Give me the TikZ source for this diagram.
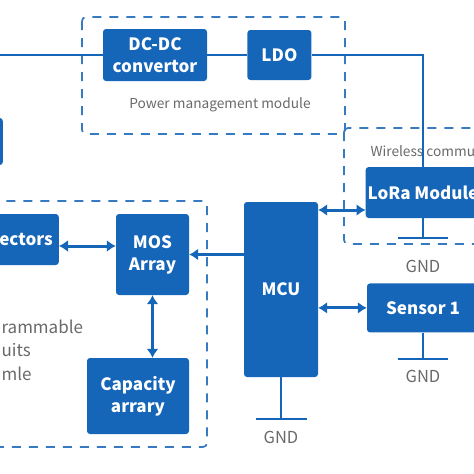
\documentclass[tikz,border=0pt]{standalone}
\usepackage{fontspec}
\setmainfont{Noto Sans CJK SC}
\usetikzlibrary{arrows.meta, positioning}
\definecolor{boxblue}{RGB}{21,101,184}
\definecolor{dashblue}{RGB}{54,122,194}
\definecolor{labelgray}{RGB}{105,105,105}
\tikzstyle{block} = [rectangle, rounded corners=3pt, fill=boxblue, text=white, font=\fontsize{17}{22}\selectfont\bfseries, align=center, inner sep=2pt]
\tikzstyle{wire} = [boxblue, line width=2pt]
\tikzstyle{biarrow} = [boxblue, line width=3pt, {Latex[length=9pt,width=12pt]}-{Latex[length=9pt,width=12pt]}]
\tikzstyle{onearrow} = [boxblue, line width=3pt, -{Latex[length=9pt,width=12pt]}]
\tikzstyle{module} = [dashblue, line width=1.7pt, dash pattern=on 9pt off 8pt, rounded corners=4pt]
\tikzstyle{caption} = [text=labelgray, font=\fontsize{13.7}{18}\selectfont]
\tikzstyle{gndlabel} = [text=labelgray, font=\fontsize{16.5}{18}\selectfont]

\begin{document}
\begin{tikzpicture}[x=1pt, y=-1pt, node distance=40pt]
    \useasboundingbox (0,0) rectangle (474,474);
    \clip (0,0) rectangle (474,474);

    % power management module
    \draw[module] (82,17) rectangle (345,134);
    \node[block, minimum width=104pt, minimum height=52pt] (dcdc) at (155,55) {DC-DC\\convertor};
    \node[block, minimum width=64pt, minimum height=50pt, right=40pt of dcdc] (ldo) {LDO};
    \node[caption] (pmlabel) at (220,105) {Power management module};

    % wireless communication module
    \draw[module] (344,128) rectangle (500,244);
    \node[caption, anchor=west] (wclabel) at (367,151) {Wireless communication module};
    \node[block, minimum width=112pt, minimum height=51pt] (lora) at (423,192.5) {LoRa Module};

    % MCU and sensor
    \node[block, minimum width=74pt, minimum height=175pt] (mcu) at (281,289.5) {MCU};
    \node[block, minimum width=112pt, minimum height=49pt, below=65pt of lora] (sensor) {Sensor 1};

    % programmable circuits module
    \draw[module] (-20,201) rectangle (207,447);
    \node[block, minimum width=73pt, minimum height=81pt] (mos) at (152.5,254.5) {MOS\\Array};
    \node[block, minimum width=102pt, minimum height=76pt] (cap) at (138,396) {Capacity\\arrary};
    \node[block, minimum height=51pt, inner xsep=6pt, anchor=east] (conn) at (59,239.5) {Connectors};
    \node[caption, anchor=west, align=left, font=\fontsize{17}{23.5}\selectfont] (pclabel) at (-2,350) {rammable\\uits\\mle};

    % left block, cut off by the edge
    \node[block, minimum width=40pt, minimum height=47pt, anchor=east] (inbox) at (3,141.5) {};

    % power path
    \coordinate (vin) at (0,55);
    \draw[wire] (vin) -- (dcdc);
    \draw[wire] (dcdc) -- (ldo);
    \draw[wire] (ldo.east) -| (lora.north);

    % data links
    \coordinate (lorain) at ([yshift=-17.5pt]lora.west);
    \draw[biarrow] (mcu.east |- lorain) -- (lorain);
    \draw[biarrow] (mcu.east |- sensor.west) -- (sensor.west);
    \draw[onearrow] (mcu.west |- mos.east) -- (mos.east);
    \coordinate (mosin) at ([yshift=8.5pt]mos.west);
    \draw[biarrow] (conn.east |- mosin) -- (mosin);
    \draw[biarrow] (mos.south) -- (mos.south |- cap.north);

    % ground symbols
    \coordinate (gndl) at ([yshift=-20pt]lora.south);
    \draw[wire] (lora.south) -- (gndl) ([xshift=-25pt]gndl) -- ([xshift=25pt]gndl);
    \node[gndlabel] (gndltext) at ([yshift=-28pt]gndl) {GND};
    \coordinate (gnds) at ([yshift=-26pt]sensor.south);
    \draw[wire] (sensor.south) -- (gnds) ([xshift=-25pt]gnds) -- ([xshift=25pt]gnds);
    \node[gndlabel] (gndstext) at ([yshift=-18pt]gnds) {GND};
    \coordinate (gndm) at ([yshift=-42pt]mcu.south);
    \draw[wire] (mcu.south) -- (gndm) ([xshift=-25.5pt]gndm) -- ([xshift=25.5pt]gndm);
    \node[gndlabel] (gndmtext) at ([yshift=-18pt]gndm) {GND};
\end{tikzpicture}
\end{document}
